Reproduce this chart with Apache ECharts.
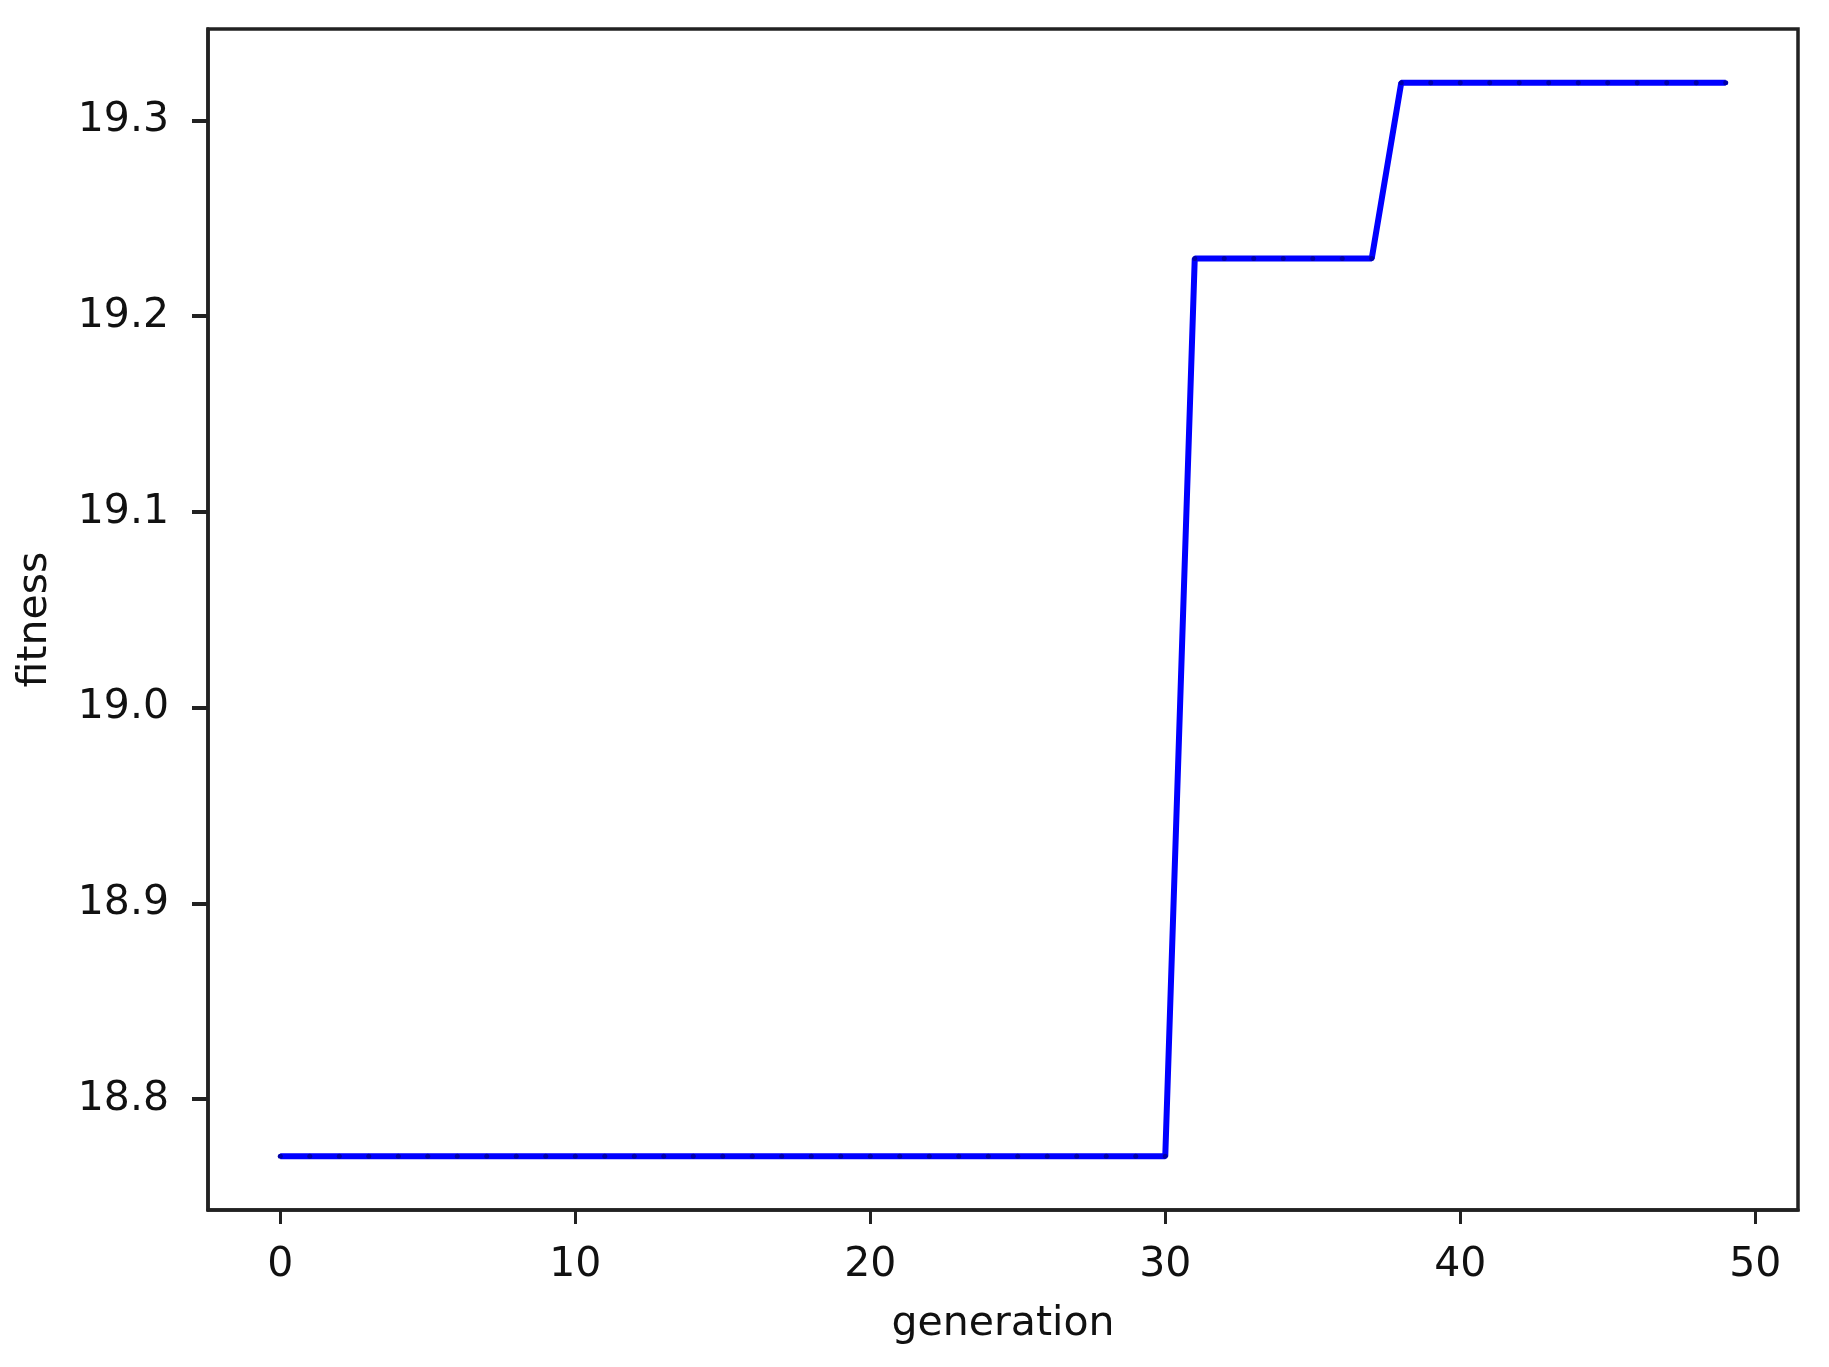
<!DOCTYPE html>
<html>
<head>
<meta charset="utf-8">
<script src="https://cdn.jsdelivr.net/npm/echarts@6/dist/echarts.min.js"></script>
<style>
html,body{margin:0;padding:0;background:#fff;}
#chart{width:1829px;height:1367px;}
</style>
</head>
<body>
<div id="chart"></div>
<script>
// Data
var generations = [0,1,2,3,4,5,6,7,8,9,10,11,12,13,14,15,16,17,18,19,20,21,22,23,24,25,26,27,28,29,30,31,32,33,34,35,36,37,38,39,40,41,42,43,44,45,46,47,48,49];
var fitness = [
  18.7707,18.7707,18.7707,18.7707,18.7707,18.7707,18.7707,18.7707,18.7707,18.7707,
  18.7707,18.7707,18.7707,18.7707,18.7707,18.7707,18.7707,18.7707,18.7707,18.7707,
  18.7707,18.7707,18.7707,18.7707,18.7707,18.7707,18.7707,18.7707,18.7707,18.7707,
  18.7707,
  19.2294,19.2294,19.2294,19.2294,19.2294,19.2294,19.2294,
  19.3193,19.3193,19.3193,19.3193,19.3193,19.3193,19.3193,19.3193,19.3193,19.3193,19.3193,19.3193
];
var xTicks = [0,10,20,30,40,50];
var yTicks = [18.8,18.9,19.0,19.1,19.2,19.3];

var pairs = generations.map(function(g,i){ return [g, fitness[i]]; });

// matplotlib-like 5% autoscale margins
var xMinD = Math.min.apply(null, generations), xMaxD = Math.max.apply(null, generations);
var yMinD = Math.min.apply(null, fitness), yMaxD = Math.max.apply(null, fitness);
var xPad = (xMaxD - xMinD) * 0.05, yPad = (yMaxD - yMinD) * 0.05;

var FONT = 'DejaVu Sans';
var chart = echarts.init(document.getElementById('chart'), null, {renderer:'canvas'});
chart.setOption({
  animation: false,
  backgroundColor: '#ffffff',
  grid: {
    left: 208, right: 31, top: 29, bottom: 157,
    show: true, borderColor: '#222', borderWidth: 3.5, backgroundColor: 'transparent',
    containLabel: false
  },
  xAxis: {
    type: 'value',
    min: xMinD - xPad, max: xMaxD + xPad,
    name: 'generation', nameLocation: 'middle', nameGap: 94,
    nameTextStyle: {fontFamily: FONT, fontSize: 41, color: '#111'},
    axisLine: {show: true, onZero: false, lineStyle: {color: '#222', width: 3.5}},
    splitLine: {show: false},
    axisTick: {show: true, inside: false, length: 14, customValues: xTicks,
      lineStyle: {color: '#222', width: 3}},
    axisLabel: {show: true, margin: 35, customValues: xTicks,
      fontFamily: FONT, fontSize: 41, color: '#111',
      formatter: function(v){ return String(Math.round(v)); }}
  },
  yAxis: {
    type: 'value',
    min: yMinD - yPad, max: yMaxD + yPad,
    name: 'fitness', nameLocation: 'middle', nameGap: 152, nameRotate: 90,
    nameTextStyle: {fontFamily: FONT, fontSize: 41, color: '#111'},
    axisLine: {show: true, onZero: false, lineStyle: {color: '#222', width: 3.5}},
    splitLine: {show: false},
    axisTick: {show: true, inside: false, length: 16, customValues: yTicks,
      lineStyle: {color: '#222', width: 4}},
    axisLabel: {show: true, margin: 39, customValues: yTicks,
      fontFamily: FONT, fontSize: 41, color: '#111',
      formatter: function(v){ return v.toFixed(1); }}
  },
  series: [{
    type: 'line',
    data: pairs,
    showSymbol: true,
    symbol: 'circle',
    symbolSize: 5,
    itemStyle: {color: '#0000a8'},
    lineStyle: {color: '#0000ff', width: 6},
    z: 3
  }]
});
</script>
</body>
</html>
